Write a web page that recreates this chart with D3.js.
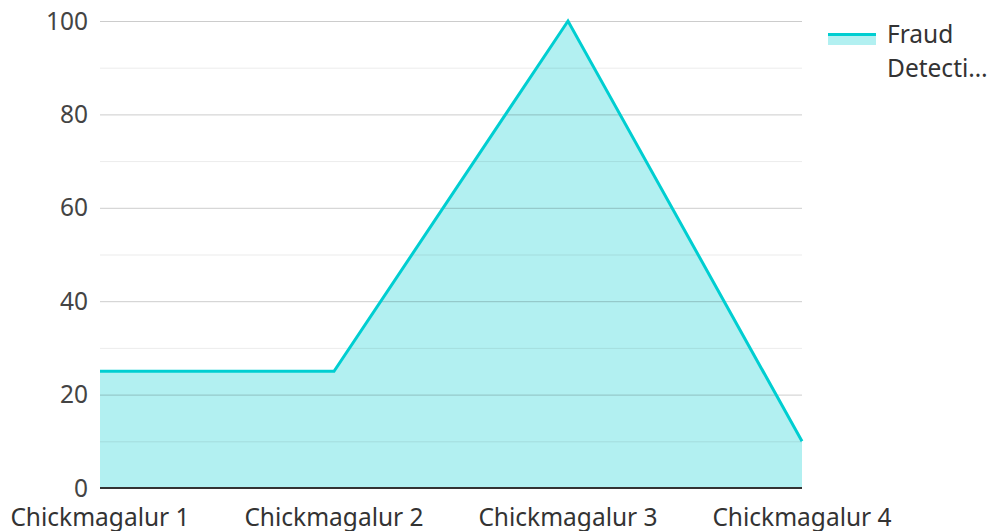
<!DOCTYPE html>
<html lang="en"><head><meta charset="UTF-8">
<title>Fraud Detection</title>
<script src="https://d3js.org/d3.v7.min.js"></script>
<style>
  body { margin: 0; background: #fff; }
  text { font-family: "Noto Sans", "Open Sans", sans-serif; }
</style>
</head>
<body>
<script>
var categories = ["Chickmagalur 1", "Chickmagalur 2", "Chickmagalur 3", "Chickmagalur 4"];
var values = [25, 25, 100, 10];
var seriesName = ["Fraud", "Detecti\u2026"];
var yTicks = [0, 20, 40, 60, 80, 100];
var minorTicks = [10, 30, 50, 70, 90];

var w = 989, h = 531;
var margin = {top: 21, right: 187, bottom: 43, left: 100};
var width = w - margin.left - margin.right;
var height = h - margin.top - margin.bottom;
var color = "#00CED1";
var fs = 24.5;

var svg = d3.select("body").append("svg")
    .attr("width", w).attr("height", h);
var g = svg.append("g")
    .attr("transform", "translate(" + margin.left + "," + margin.top + ")");

var xScale = d3.scalePoint().domain(categories).range([0, width]).padding(0);
var yScale = d3.scaleLinear().domain([0, 100]).range([height, 0]);

// area
var area = d3.area()
    .x(function(d, i) { return xScale(categories[i]); })
    .y0(height)
    .y1(function(d) { return yScale(d); });
g.append("path").datum(values)
    .attr("d", area)
    .attr("fill", color)
    .attr("fill-opacity", 0.3);

// grid lines (drawn over the area)
g.selectAll(".minor").data(minorTicks).enter().append("line")
    .attr("x1", 0).attr("x2", width)
    .attr("y1", function(d) { return yScale(d) + 0.5; })
    .attr("y2", function(d) { return yScale(d) + 0.5; })
    .attr("stroke", "#000").attr("stroke-opacity", 0.08);
g.selectAll(".major").data(yTicks.slice(1)).enter().append("line")
    .attr("x1", 0).attr("x2", width)
    .attr("y1", function(d) { return yScale(d) + 0.5; })
    .attr("y2", function(d) { return yScale(d) + 0.5; })
    .attr("stroke", "#000").attr("stroke-opacity", 0.2);

// line
var line = d3.line()
    .x(function(d, i) { return xScale(categories[i]); })
    .y(function(d) { return yScale(d); });
g.append("path").datum(values)
    .attr("d", line)
    .attr("fill", "none")
    .attr("stroke", color)
    .attr("stroke-width", 3);

// baseline
g.append("line")
    .attr("x1", 0).attr("x2", width)
    .attr("y1", height).attr("y2", height)
    .attr("stroke", "#333").attr("stroke-width", 2);

// y labels
g.selectAll(".ylab").data(yTicks).enter().append("text")
    .attr("x", -12)
    .attr("y", function(d) { return yScale(d); })
    .attr("dy", "0.35em")
    .attr("text-anchor", "end")
    .attr("font-size", fs)
    .attr("fill", "#444")
    .text(function(d) { return d; });

// x labels
g.selectAll(".xlab").data(categories).enter().append("text")
    .attr("x", function(d) { return xScale(d); })
    .attr("y", height + 38)
    .attr("text-anchor", "middle")
    .attr("font-size", fs)
    .attr("fill", "#333")
    .text(function(d) { return d; });

// legend
var leg = svg.append("g").attr("transform", "translate(828,33)");
leg.append("rect").attr("x", 0).attr("y", 0).attr("width", 48).attr("height", 12)
    .attr("fill", color).attr("fill-opacity", 0.3);
leg.append("line").attr("x1", 0).attr("x2", 48).attr("y1", 1.5).attr("y2", 1.5)
    .attr("stroke", color).attr("stroke-width", 3);
leg.selectAll(".legtxt").data(seriesName).enter().append("text")
    .attr("x", 59)
    .attr("y", function(d, i) { return 10 + i * 34; })
    .attr("font-size", fs).attr("fill", "#333")
    .text(function(d) { return d; });
</script>
</body>
</html>
